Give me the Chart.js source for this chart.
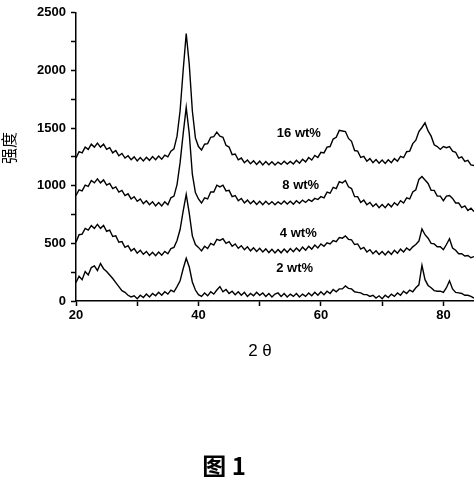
<!DOCTYPE html>
<html>
<head>
<meta charset="utf-8">
<script src="https://cdn.jsdelivr.net/npm/chart.js@4.4.1/dist/chart.umd.min.js"></script>
<style>
  html, body { margin: 0; padding: 0; background: #fff; }
  #wrap { position: relative; width: 474px; height: 477px; overflow: hidden; }
  #xrd { position: absolute; left: 0; top: 0; }
  .txt { position: absolute; color: #000; white-space: nowrap; }
  #ytitle { left: 8px; top: 148px; font: 16px "Noto Sans CJK SC", sans-serif; transform: translate(-50%, -50%) rotate(-90deg); }
  #xtitle { left: 260px; top: 351px; font: 17px "Liberation Sans", sans-serif; transform: translate(-50%, -50%); }
  #caption { left: 224px; top: 464px; font: bold 24px "Noto Sans CJK SC", sans-serif; transform: translate(-50%, -50%); }
</style>
</head>
<body>
<div id="wrap">
  <canvas id="xrd" width="474" height="477"></canvas>
  <div class="txt" id="ytitle">强度</div>
  <div class="txt" id="xtitle">2 θ</div>
  <div class="txt" id="caption">图 1</div>
</div>
<script>
const angles = [
  20, 20.5, 21, 21.5, 22, 22.5, 23, 23.5, 24, 24.5, 25,
  25.5, 26, 26.5, 27, 27.5, 28, 28.5, 29, 29.5, 30,
  30.5, 31, 31.5, 32, 32.5, 33, 33.5, 34, 34.5, 35,
  35.5, 36, 36.5, 37, 37.5, 38, 38.5, 39, 39.5, 40,
  40.5, 41, 41.5, 42, 42.5, 43, 43.5, 44, 44.5, 45,
  45.5, 46, 46.5, 47, 47.5, 48, 48.5, 49, 49.5, 50,
  50.5, 51, 51.5, 52, 52.5, 53, 53.5, 54, 54.5, 55,
  55.5, 56, 56.5, 57, 57.5, 58, 58.5, 59, 59.5, 60,
  60.5, 61, 61.5, 62, 62.5, 63, 63.5, 64, 64.5, 65,
  65.5, 66, 66.5, 67, 67.5, 68, 68.5, 69, 69.5, 70,
  70.5, 71, 71.5, 72, 72.5, 73, 73.5, 74, 74.5, 75,
  75.5, 76, 76.5, 77, 77.5, 78, 78.5, 79, 79.5, 80,
  80.5, 81, 81.5, 82, 82.5, 83, 83.5, 84, 84.5, 85
];

const wt2 = [
  160, 215, 185, 255, 225, 290, 305, 265, 325, 280, 255,
  225, 195, 160, 125, 90, 75, 50, 35, 45, 20,
  50, 30, 60, 35, 65, 45, 75, 50, 80, 60,
  95, 80, 125, 175, 280, 370, 295, 165, 95, 55,
  40, 70, 45, 80, 60, 95, 125, 80, 100, 65,
  85, 55, 80, 50, 75, 40, 65, 45, 75, 50,
  70, 40, 65, 35, 60, 70, 40, 65, 35, 60,
  40, 65, 35, 60, 40, 70, 45, 75, 50, 80,
  55, 85, 65, 100, 80, 105, 105, 130, 110, 105,
  80, 75, 70, 55, 55, 40, 50, 25, 45, 20,
  50, 30, 60, 40, 70, 50, 85, 65, 95, 80,
  115, 140, 310, 185, 135, 115, 90, 85, 85, 75,
  115, 175, 105, 75, 70, 65, 50, 50, 40, 25
];

const wt4 = [
  510, 575, 580, 630, 615, 655, 630, 665, 630, 655, 605,
  615, 560, 565, 510, 515, 465, 480, 435, 455, 415,
  440, 405, 430, 395, 423, 393, 425, 397, 430, 410,
  455, 465, 525, 620, 780, 925, 760, 565, 490, 465,
  435, 475, 455, 500, 485, 535, 525, 540, 500, 515,
  475, 495, 457, 480, 445, 470, 435, 462, 430, 457,
  425, 452, 420, 448, 417, 447, 418, 450, 422, 455,
  427, 460, 433, 467, 441, 475, 450, 485, 460, 495,
  475, 505, 495, 525, 515, 550, 545, 565, 535, 530,
  490, 495, 450, 465, 425, 445, 410, 435, 403, 430,
  400, 432, 405, 440, 415, 450, 425, 460, 440, 470,
  490, 520, 625, 575, 545, 500, 495, 470, 470, 445,
  490, 540, 460, 440, 410, 410, 390, 395, 375, 385
];

const wt8 = [
  915, 965, 955, 1005, 995, 1045, 1025, 1060, 1025, 1050, 1005,
  1020, 975, 990, 945, 960, 915, 930, 885, 905, 865,
  885, 845, 870, 835, 860, 825, 855, 825, 860, 835,
  895, 910, 1010, 1200, 1450, 1680, 1450, 1100, 940, 885,
  850, 895, 885, 945, 945, 1005, 990, 1005, 955, 960,
  905, 915, 870, 890, 850, 875, 843, 870, 837, 865,
  835, 865, 838, 862, 835, 860, 840, 868, 842, 865,
  840, 870, 848, 875, 855, 880, 865, 890, 880, 905,
  895, 945, 935, 985, 975, 1035, 1025, 1045, 990, 975,
  905, 905, 855, 875, 835, 855, 820, 843, 810, 837,
  810, 843, 817, 853, 830, 870, 850, 895, 885, 945,
  965, 1055, 1080, 1050, 1020, 960, 960, 910, 910, 870,
  910, 915, 890, 850, 850, 810, 825, 785, 805, 775
];

const wt16 = [
  1240, 1295, 1285, 1335, 1315, 1360, 1335, 1370, 1335, 1360, 1315,
  1330, 1285, 1305, 1260, 1280, 1240, 1260, 1225, 1250, 1215,
  1245, 1215, 1247, 1220, 1253, 1225, 1257, 1230, 1265, 1250,
  1300, 1320, 1430, 1650, 2000, 2320, 2050, 1650, 1415, 1340,
  1310, 1360, 1365, 1420, 1425, 1465, 1430, 1420, 1350, 1335,
  1270, 1275, 1225, 1240, 1200, 1223, 1190, 1217, 1185, 1213,
  1180, 1210, 1182, 1208, 1180, 1205, 1185, 1212, 1188, 1210,
  1188, 1220, 1195, 1230, 1207, 1245, 1223, 1263, 1245, 1290,
  1285, 1335, 1340, 1405, 1420, 1480, 1475, 1470, 1410, 1385,
  1305, 1300, 1245, 1255, 1213, 1235, 1200, 1227, 1195, 1223,
  1193, 1225, 1200, 1235, 1213, 1255, 1243, 1295, 1300, 1365,
  1395, 1470, 1505, 1545, 1475, 1430, 1355, 1340, 1315, 1340,
  1330, 1340, 1300, 1290, 1240, 1250, 1210, 1220, 1180, 1175
];

const seriesNames = ["2 wt%", "4 wt%", "8 wt%", "16 wt%"];
const seriesData = [wt2, wt4, wt8, wt16];

// where each curve's name sits, in axis units
const nameSpots = [
  { x: 55.7, y: 285 },
  { x: 56.3, y: 585 },
  { x: 56.7, y: 1000 },
  { x: 56.4, y: 1450 },
];

const seriesTags = {
  id: "seriesTags",
  afterDatasetsDraw(chart) {
    const { ctx, scales } = chart;
    ctx.save();
    ctx.fillStyle = "#000";
    ctx.font = "bold 13px 'Liberation Sans', Arial, sans-serif";
    ctx.textAlign = "center";
    ctx.textBaseline = "middle";
    seriesNames.forEach((name, i) => {
      ctx.fillText(name, scales.x.getPixelForValue(nameSpots[i].x), scales.y.getPixelForValue(nameSpots[i].y));
    });
    ctx.restore();
  },
};

const tickFont = { family: "'Liberation Sans', Arial, sans-serif", size: 13, weight: "bold" };

new Chart(document.getElementById("xrd"), {
  type: "line",
  data: {
    datasets: seriesData.map((vals, i) => ({
      label: seriesNames[i],
      data: angles.map((a, j) => ({ x: a, y: vals[j] })),
      borderColor: "#000",
      borderWidth: 1.4,
      pointRadius: 0,
      tension: 0,
      fill: false,
    })),
  },
  options: {
    responsive: false,
    animation: false,
    devicePixelRatio: 1,
    layout: { padding: { top: 6, right: 0, left: 0, bottom: 0 } },
    plugins: { legend: { display: false }, tooltip: { enabled: false } },
    scales: {
      x: {
        type: "linear",
        min: 20,
        max: 85,
        border: { color: "#000", width: 1.5 },
        grid: { drawOnChartArea: false, color: "#000", tickLength: 5, tickWidth: 1.5 },
        ticks: {
          stepSize: 10,
          includeBounds: false,
          color: "#000",
          font: tickFont,
          padding: 2,
          maxRotation: 0,
          callback: (v) => (v % 20 === 0 ? v : ""),
        },
        afterFit: (axis) => { axis.height = 176; },
      },
      y: {
        min: 0,
        max: 2500,
        border: { color: "#000", width: 1.5 },
        grid: { drawOnChartArea: false, color: "#000", tickLength: 5, tickWidth: 1.5 },
        ticks: {
          stepSize: 250,
          color: "#000",
          font: tickFont,
          padding: 5,
          callback: (v) => (v % 500 === 0 ? v : ""),
        },
        afterFit: (axis) => { axis.width = 76; },
      },
    },
  },
  plugins: [seriesTags],
});
</script>
</body>
</html>
